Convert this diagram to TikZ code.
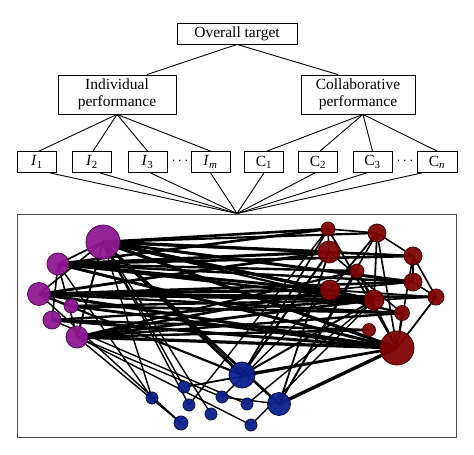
\documentclass[tikz,border=0pt]{standalone}
\usepackage{fontspec}
\setmainfont{Liberation Serif}
\pgfdeclarelayer{bg}
\pgfsetlayers{bg,main}
\definecolor{pfill}{RGB}{142,24,146}
\definecolor{pdraw}{RGB}{80,10,80}
\definecolor{rfill}{RGB}{128,4,4}
\definecolor{rdraw}{RGB}{70,0,0}
\definecolor{bfill}{RGB}{12,32,140}
\definecolor{bdraw}{RGB}{5,15,70}
\begin{document}
\begin{tikzpicture}[x=1pt,y=-1pt,
  box/.style={draw,line width=0.8pt,inner sep=0pt,font=\fontsize{15.5}{17}\selectfont,align=center},
  ibox/.style={box,minimum width=39pt,minimum height=21pt},
  conn/.style={line width=0.9pt},
  pn/.style={circle,draw=pdraw,fill=pfill,line width=0.8pt,inner sep=0pt,fill opacity=0.95},
  rn/.style={circle,draw=rdraw,fill=rfill,line width=0.8pt,inner sep=0pt,fill opacity=0.95},
  bn/.style={circle,draw=bdraw,fill=bfill,line width=0.8pt,inner sep=0pt,fill opacity=0.95},
  dotsl/.style={font=\fontsize{15}{16}\selectfont}
]
\useasboundingbox (0,0) rectangle (474,455);
% hierarchy
\node[box,minimum width=120pt,minimum height=21pt] (ot) at (237,33.5) {Overall target};
\node[box,minimum width=118pt,minimum height=39pt] (ind) at (117,94.5) {Individual\\performance};
\node[box,minimum width=114pt,minimum height=39pt] (col) at (358,94.5) {Collaborative\\performance};
\node[ibox] (I1) at (37,162) {\textit{I}\textsubscript{1}};
\node[ibox] (I2) at (92,162) {\textit{I}\textsubscript{2}};
\node[ibox] (I3) at (147.5,162) {\textit{I}\textsubscript{3}};
\node[dotsl] (d1) at (180,161) {$\cdots$};
\node[ibox] (Im) at (210.5,162) {\textit{I}\textsubscript{\textit{m}}};
\node[ibox] (C1) at (264,162) {C\textsubscript{1}};
\node[ibox] (C2) at (318,162) {C\textsubscript{2}};
\node[ibox] (C3) at (372.5,162) {C\textsubscript{3}};
\node[dotsl] (d2) at (405,161) {$\cdots$};
\node[ibox,minimum width=40pt] (Cn) at (437,162) {C\textsubscript{\textit{n}}};
\coordinate (conv) at (237,213.5);
\draw[conn] (ot.south) -- ([xshift=30pt]ind.north);
\draw[conn] (ot.south) -- ([xshift=-20pt]col.north);
\draw[conn] (ind.south) -- ([xshift=2pt]I1.north);
\draw[conn] (ind.south) -- ([xshift=1pt]I2.north);
\draw[conn] (ind.south) -- (I3.north);
\draw[conn] (ind.south) -- (Im.north);
\draw[conn] ([xshift=5pt]col.south) -- ([xshift=3pt]C1.north);
\draw[conn] ([xshift=5pt]col.south) -- ([xshift=2pt]C2.north);
\draw[conn] ([xshift=5pt]col.south) -- (C3.north);
\draw[conn] ([xshift=5pt]col.south) -- (Cn.north);
\draw[conn] ([xshift=13pt]I1.south) -- (conv);
\draw[conn] ([xshift=8pt]I2.south) -- (conv);
\draw[conn] ([xshift=3pt]I3.south) -- (conv);
\draw[conn] (Im.south) -- (conv);
\draw[conn] (C1.south) -- (conv);
\draw[conn] ([xshift=-3pt]C2.south) -- (conv);
\draw[conn] ([xshift=-6pt]C3.south) -- (conv);
\draw[conn] ([xshift=-15pt]Cn.south) -- (conv);
\node[draw=black!70,line width=1pt,minimum width=439pt,minimum height=223pt,inner sep=0pt] (frame) at (236.5,325.5) {};
% network nodes
\node[pn,minimum size=34pt] (P1) at (103,242) {};
\node[pn,minimum size=22pt] (P2) at (58,264) {};
\node[pn,minimum size=23pt] (P3) at (39,294) {};
\node[pn,minimum size=14pt] (P4) at (71,306) {};
\node[pn,minimum size=18pt] (P5) at (52,320) {};
\node[pn,minimum size=22pt] (P6) at (77,337) {};
\node[bn,minimum size=12pt] (B1) at (184,387) {};
\node[bn,minimum size=12pt] (B2) at (152,398) {};
\node[bn,minimum size=12pt] (B3) at (189,405) {};
\node[bn,minimum size=14pt] (B4) at (181,423) {};
\node[bn,minimum size=12pt] (B5) at (211,414) {};
\node[bn,minimum size=12pt] (B6) at (222,397) {};
\node[bn,minimum size=26pt] (B7) at (242,375) {};
\node[bn,minimum size=12pt] (B8) at (247,404) {};
\node[bn,minimum size=23pt] (B9) at (279,404) {};
\node[bn,minimum size=12pt] (B10) at (251,425) {};
\node[rn,minimum size=14pt] (R1) at (328,229) {};
\node[rn,minimum size=18pt] (R2) at (377,233) {};
\node[rn,minimum size=22pt] (R3) at (329,252) {};
\node[rn,minimum size=18pt] (R4) at (413,256) {};
\node[rn,minimum size=14pt] (R5) at (357,271) {};
\node[rn,minimum size=18pt] (R6) at (413,282) {};
\node[rn,minimum size=20pt] (R7) at (330,290) {};
\node[rn,minimum size=16pt] (R8) at (436,297) {};
\node[rn,minimum size=20pt] (R9) at (374,300) {};
\node[rn,minimum size=15pt] (R10) at (402,313) {};
\node[rn,minimum size=13pt] (R11) at (369,330) {};
\node[rn,minimum size=34pt] (R12) at (397,348) {};
% edges
\begin{pgfonlayer}{bg}
\foreach \a/\b/\w in {
 P1/R1/2.6, P1/R2/2.2, P1/R3/3.2, P1/R4/2.6, P1/R6/3.0, P1/R7/2.8, P1/R9/3.2, P1/R12/3.4, P1/R10/2.2,
 P2/R1/2.6, P2/R3/3.0, P2/R5/2.4, P2/R4/2.6, P2/R7/3.0, P2/R9/2.6, P2/R12/3.0, P2/R6/2.4,
 P3/R3/2.8, P3/R7/3.2, P3/R8/2.6, P3/R9/3.0, P3/R12/3.2, P3/R6/2.6, P3/R10/2.4,
 P4/R9/2.4, P4/R10/2.6, P4/R12/2.8,
 P5/R11/2.4, P5/R12/3.0, P5/R9/2.4,
 P6/R12/3.2, P6/R9/2.8, P6/R10/2.4, P6/R7/2.6, P6/R11/2.4, P6/R5/2.2,
 P1/P2/1.8, P1/P6/2.0, P1/P3/1.6, P2/P5/1.6, P2/P6/1.6, P3/P4/1.4,
 R1/R2/1.6, R1/R3/1.6, R1/R12/1.8, R2/R4/1.6, R2/R9/1.8, R2/R12/1.6, R2/R7/1.8, R4/R6/1.6,
 R4/R8/1.6, R6/R8/1.6, R8/R12/1.8, R10/R12/1.6, R5/R12/1.6, R4/R12/1.6, R3/R4/1.8, R6/R7/1.6,
 R8/R9/1.6, R7/R8/1.8, R5/R9/1.4, R3/R10/1.6,
 B1/P1/1.4, B2/P1/1.4, B3/P1/1.4, B3/R1/1.4, B4/P3/1.4, B4/P6/1.4, B5/P1/1.4, B6/R7/1.4,
 B6/P6/1.4, B7/P1/3.0, B7/P3/2.2, B7/R1/1.8, B7/R3/2.2, B7/R12/2.6, B7/R9/2.0, B8/P5/1.4,
 B8/R9/1.4, B9/P1/2.6, B9/R12/3.4, B9/R3/1.8, B9/R5/1.6, B9/R2/1.6, B10/R9/1.4, B10/P6/1.4,
 B2/P2/1.4, B6/B9/1.4, B1/R12/1.8}
 \draw[line width=\w pt] (\a.center) -- (\b.center);
\end{pgfonlayer}
\end{tikzpicture}
\end{document}
